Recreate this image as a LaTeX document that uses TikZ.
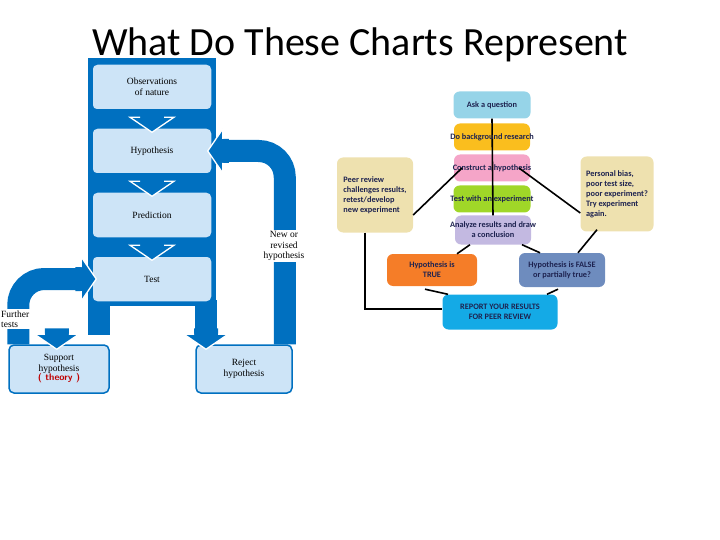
\documentclass[tikz,border=0pt]{standalone}
\usepackage{fontspec}
\setmainfont{Liberation Serif}
\newfontfamily\calib{Carlito}
\usetikzlibrary{positioning}
\definecolor{sciblue}{RGB}{0,112,192}
\definecolor{boxfill}{RGB}{205,228,247}
\definecolor{navytext}{RGB}{30,35,80}
\definecolor{qblue}{RGB}{150,212,232}
\definecolor{qorange}{RGB}{250,190,30}
\definecolor{qpink}{RGB}{245,165,200}
\definecolor{qgreen}{RGB}{160,215,40}
\definecolor{qlav}{RGB}{195,185,225}
\definecolor{qbeige}{RGB}{238,225,175}
\definecolor{qtrue}{RGB}{245,125,40}
\definecolor{qfalse}{RGB}{110,140,190}
\definecolor{qreport}{RGB}{20,170,230}
\tikzset{
  stepbox/.style={draw=sciblue,line width=1.5pt,fill=boxfill,rounded corners=5pt,
    font=\fontsize{9.5}{10.5}\selectfont,align=center,inner sep=0pt},
  fatline/.style={sciblue,line width=22pt},
  fathead/.pic={
    \fill[sciblue] (-12,-16)--(-12,-10)--(-22,-10)--(0,5)--(22,-10)--(12,-10)--(12,-16)--cycle;
    \draw[white,line width=1.3pt] (-12,-10)--(-22,-10)--(0,5)--(22,-10)--(12,-10);},
  qbox/.style={rounded corners=6pt,inner sep=0pt,align=center,text=navytext,
    font=\calib\bfseries\fontsize{8.3}{10}\selectfont},
  qline/.style={black,line width=1.6pt}
}
\begin{document}
\begin{tikzpicture}[x=1pt,y=-1pt]
  \useasboundingbox (0,0) rectangle (720,540);
  \node[font=\calib\fontsize{40}{44}\selectfont] (title) at (360,45) {What Do These Charts Represent};

  % left chart
  \fill[sciblue] (88,58) rectangle (216,306);
  \draw[fatline] (99,300) -- (99,335);
  \draw[fatline] (206,300) -- (206,335);
  \node[stepbox,minimum width=120pt,minimum height=46pt] (obs) at (152,87) {Observations\\of nature};
  \node[stepbox,minimum width=120pt,minimum height=46pt] (hyp) at (152,151) {Hypothesis};
  \node[stepbox,minimum width=120pt,minimum height=46pt] (pred) at (152,215) {Prediction};
  \node[stepbox,minimum width=120pt,minimum height=46pt] (test) at (152,279) {Test};
  \node[stepbox,minimum width=100pt,minimum height=48pt] (sup) at (59,369) {Support\\hypothesis\\[-1pt]
    {\sffamily\bfseries\color{red!75!black}( theory )}};
  \node[stepbox,minimum width=96pt,minimum height=48pt] (rej) at (244,369) {Reject\\hypothesis};

  \draw[fatline,rounded corners=26pt] ([xshift=-8pt]rej.north east) |- ([xshift=14pt]hyp.east);
  \draw[fatline,rounded corners=26pt] ([xshift=10pt]sup.north west) |- ([xshift=-14pt]test.west);
  \node[fill=white,align=center,font=\fontsize{9.5}{10.5}\selectfont,inner sep=1pt] (newhyp) at (284,246) {New or\\revised\\hypothesis};
  \node[fill=white,align=left,font=\fontsize{9.5}{10.5}\selectfont,inner sep=1pt,anchor=west] (further) at (0,319) {Further\\tests};

  \foreach \a/\b in {obs/hyp,hyp/pred,pred/test}
    \pic at (\b.north) {fathead};
  \pic at ([xshift=-53pt]sup.north east) {fathead};
  \pic at ([xshift=-38pt]rej.north) {fathead};
  \pic[rotate=-90] at (hyp.east) {fathead};
  \pic[rotate=90] at (test.west) {fathead};

  % right chart
  \node[qbox,fill=qblue,minimum width=77pt,minimum height=27pt] (ask) at (492,105) {Ask a question};
  \node[qbox,fill=qorange,minimum width=76pt,minimum height=27pt] (bkg) at (492,137) {};
  \node[qbox,fill=qpink,minimum width=76pt,minimum height=27pt] (cons) at (492,168) {};
  \node[qbox,fill=qgreen,minimum width=77pt,minimum height=27pt] (exp) at (492,199) {};
  \node[qbox,fill=qlav,minimum width=76pt,minimum height=29pt] (anl) at (493,230) {};
  \draw[qline] (ask.south) -- (anl.north);
  \node[qbox] (bkgt) at (bkg) {Do background research};
  \node[qbox] (const) at (cons) {Construct a hypothesis};
  \node[qbox] (expt) at (exp) {Test with an experiment};
  \node[qbox] (anlt) at (anl) {Analyze results and draw\\a conclusion};
  \node[qbox,fill=qbeige,minimum width=76pt,minimum height=75pt,align=left] (peer) at (375,195) {Peer review\\challenges results,\\retest/develop\\new experiment};
  \node[qbox,fill=qbeige,minimum width=73pt,minimum height=75pt,align=left] (bias) at (617,194) {Personal bias,\\poor test size,\\poor experiment?\\Try experiment\\again.};
  \node[qbox,fill=qtrue,minimum width=90pt,minimum height=32pt,text=navytext] (true) at (432,270) {Hypothesis is\\TRUE};
  \node[qbox,fill=qfalse,minimum width=86pt,minimum height=34pt] (false) at (562,270) {Hypothesis is FALSE\\or partially true?};
  \node[qbox,fill=qreport,minimum width=115pt,minimum height=35pt] (report) at (500,312) {REPORT YOUR RESULTS\\FOR PEER REVIEW};

  \draw[qline] ([yshift=-20pt]peer.east) -- ([xshift=-30pt]cons.center);
  \draw[qline] ([yshift=-19pt]bias.west) -- ([xshift=27pt]cons.center);
  \draw[qline] ([xshift=-23pt]anl.south) -- ([xshift=25pt]true.north);
  \draw[qline] ([xshift=29pt]anl.south) -- ([xshift=-22pt]false.north);
  \draw[qline] ([xshift=-20pt,yshift=2pt]bias.south) -- ([xshift=16pt]false.north);
  \draw[qline] ([xshift=-7pt,yshift=-3pt]true.south) -- ([xshift=-52pt]report.north);
  \draw[qline] ([xshift=-4pt,yshift=-2pt]false.south) -- ([xshift=47pt]report.north);
  \draw[qline] ([xshift=-10pt]peer.south) |- ([yshift=3pt]report.west);
\end{tikzpicture}
\end{document}
